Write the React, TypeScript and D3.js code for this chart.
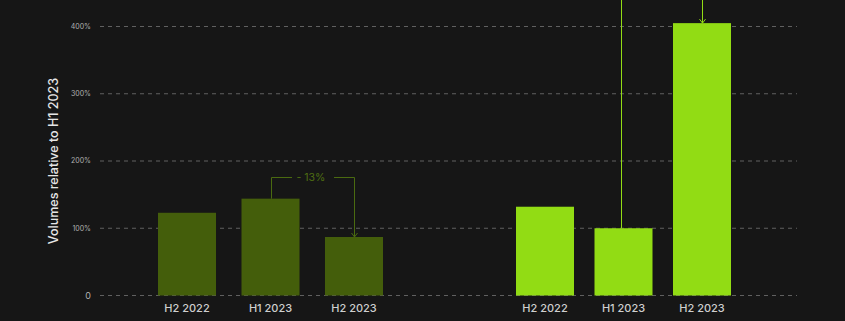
import React from "react";
import * as d3 from "d3";

const categories = ["H2 2022", "H1 2023", "H2 2023"];
const leftValues = [123, 144, 87];
const rightValues = [132, 100, 405];
const yTicks = [0, 100, 200, 300, 400];
const yTickLabels = ["0", "100%", "200%", "300%", "400%"];
const leftChangeLabel = "- 13%";
const yTitle = "Volumes relative to H1 2023";

const W = 845;
const H = 321;
const BG = "#161616";
const DARK = "#445e0b";
const BRIGHT = "#92dc14";
const FONT = "Inter, 'Noto Sans', sans-serif";

const crisp = (v: number) => Math.round(v) + 0.5;

export default function App() {
  const y = d3.scaleLinear().domain([0, 400]).range([295.5, 26.5]);
  const xL = d3.scaleBand().domain(categories).range([158, 383]).paddingInner(0.305).paddingOuter(0);
  const xR = d3.scaleBand().domain(categories).range([516, 731]).paddingInner(0.261).paddingOuter(0);
  const gridX0 = 100;
  const gridX1 = 797;

  const lc = (i: number) => (xL(categories[i]) as number) + xL.bandwidth() / 2;
  const rc = (i: number) => (xR(categories[i]) as number) + xR.bandwidth() / 2;

  const bTop = crisp(177.4);
  const lx1 = crisp(lc(1));
  const lx2 = crisp(lc(2));
  const lmid = (lx1 + lx2) / 2;
  const gapHalf = 21;
  const ly1 = y(leftValues[1]);
  const ly2 = y(leftValues[2]);

  const rx1 = crisp(rc(1) - 2.5);
  const rx2 = crisp(rc(2));
  const ry1 = y(rightValues[1]);
  const ry2 = y(rightValues[2]);
  const rTop = -20;

  const arrow = (x: number, yy: number, color: string) => (
    <path d={`M${x - 3},${yy - 4} L${x},${yy} L${x + 3},${yy - 4}`} fill="none" stroke={color} strokeWidth={1} />
  );

  return (
    <div style={{ position: "absolute", left: 0, top: 0, width: W, height: H, background: BG }}>
      <svg width={W} height={H} style={{ display: "block" }}>
        <rect x={0} y={0} width={W} height={H} fill={BG} />
        {yTicks.map((t, i) => (
          <g key={t}>
            <line x1={gridX0} x2={gridX1} y1={y(t)} y2={y(t)} stroke="#606060" strokeWidth={1} strokeDasharray="4 4" />
            <text x={91} y={y(t)} dy="0.35em" textAnchor="end" fontSize={t === 0 ? 9 : 7} fill="#b0b0b0" fontFamily={FONT}>
              {yTickLabels[i]}
            </text>
          </g>
        ))}
        <text
          transform={`translate(58,161) rotate(-90)`}
          textAnchor="middle"
          fontSize={12.5}
          fontWeight={500}
          fill="#e6e6e6"
          fontFamily={FONT}
        >
          {yTitle}
        </text>
        {leftValues.map((v, i) => (
          <rect key={"l" + i} x={xL(categories[i])} y={y(v)} width={xL.bandwidth()} height={y(0) - y(v)} fill={DARK} />
        ))}
        {rightValues.map((v, i) => (
          <rect key={"r" + i} x={xR(categories[i])} y={y(v)} width={xR.bandwidth()} height={y(0) - y(v)} fill={BRIGHT} />
        ))}
        {categories.map((c, i) => (
          <g key={"xl" + i}>
            <text x={lc(i)} y={312} textAnchor="middle" fontSize={11} fontWeight={500} fill="#cfcfcf" fontFamily={FONT}>{c}</text>
            <text x={rc(i)} y={312} textAnchor="middle" fontSize={11} fontWeight={500} fill="#cfcfcf" fontFamily={FONT}>{c}</text>
          </g>
        ))}
        <path
          d={`M${lx1},${ly1} V${bTop} H${lmid - gapHalf} M${lmid + gapHalf},${bTop} H${lx2} V${ly2}`}
          fill="none"
          stroke="#4a6a10"
          strokeWidth={1}
        />
        {arrow(lx2, ly2, "#4a6a10")}
        <text x={lmid - 2} y={bTop} dy="0.35em" textAnchor="middle" fontSize={10.5} fill="#4f6e12" fontFamily={FONT}>
          {leftChangeLabel}
        </text>
        <path
          d={`M${rx1},${ry1} V${rTop} H${rx2} V${ry2}`}
          fill="none"
          stroke={BRIGHT}
          strokeWidth={1}
        />
        {arrow(rx2, ry2, BRIGHT)}
      </svg>
    </div>
  );
}
